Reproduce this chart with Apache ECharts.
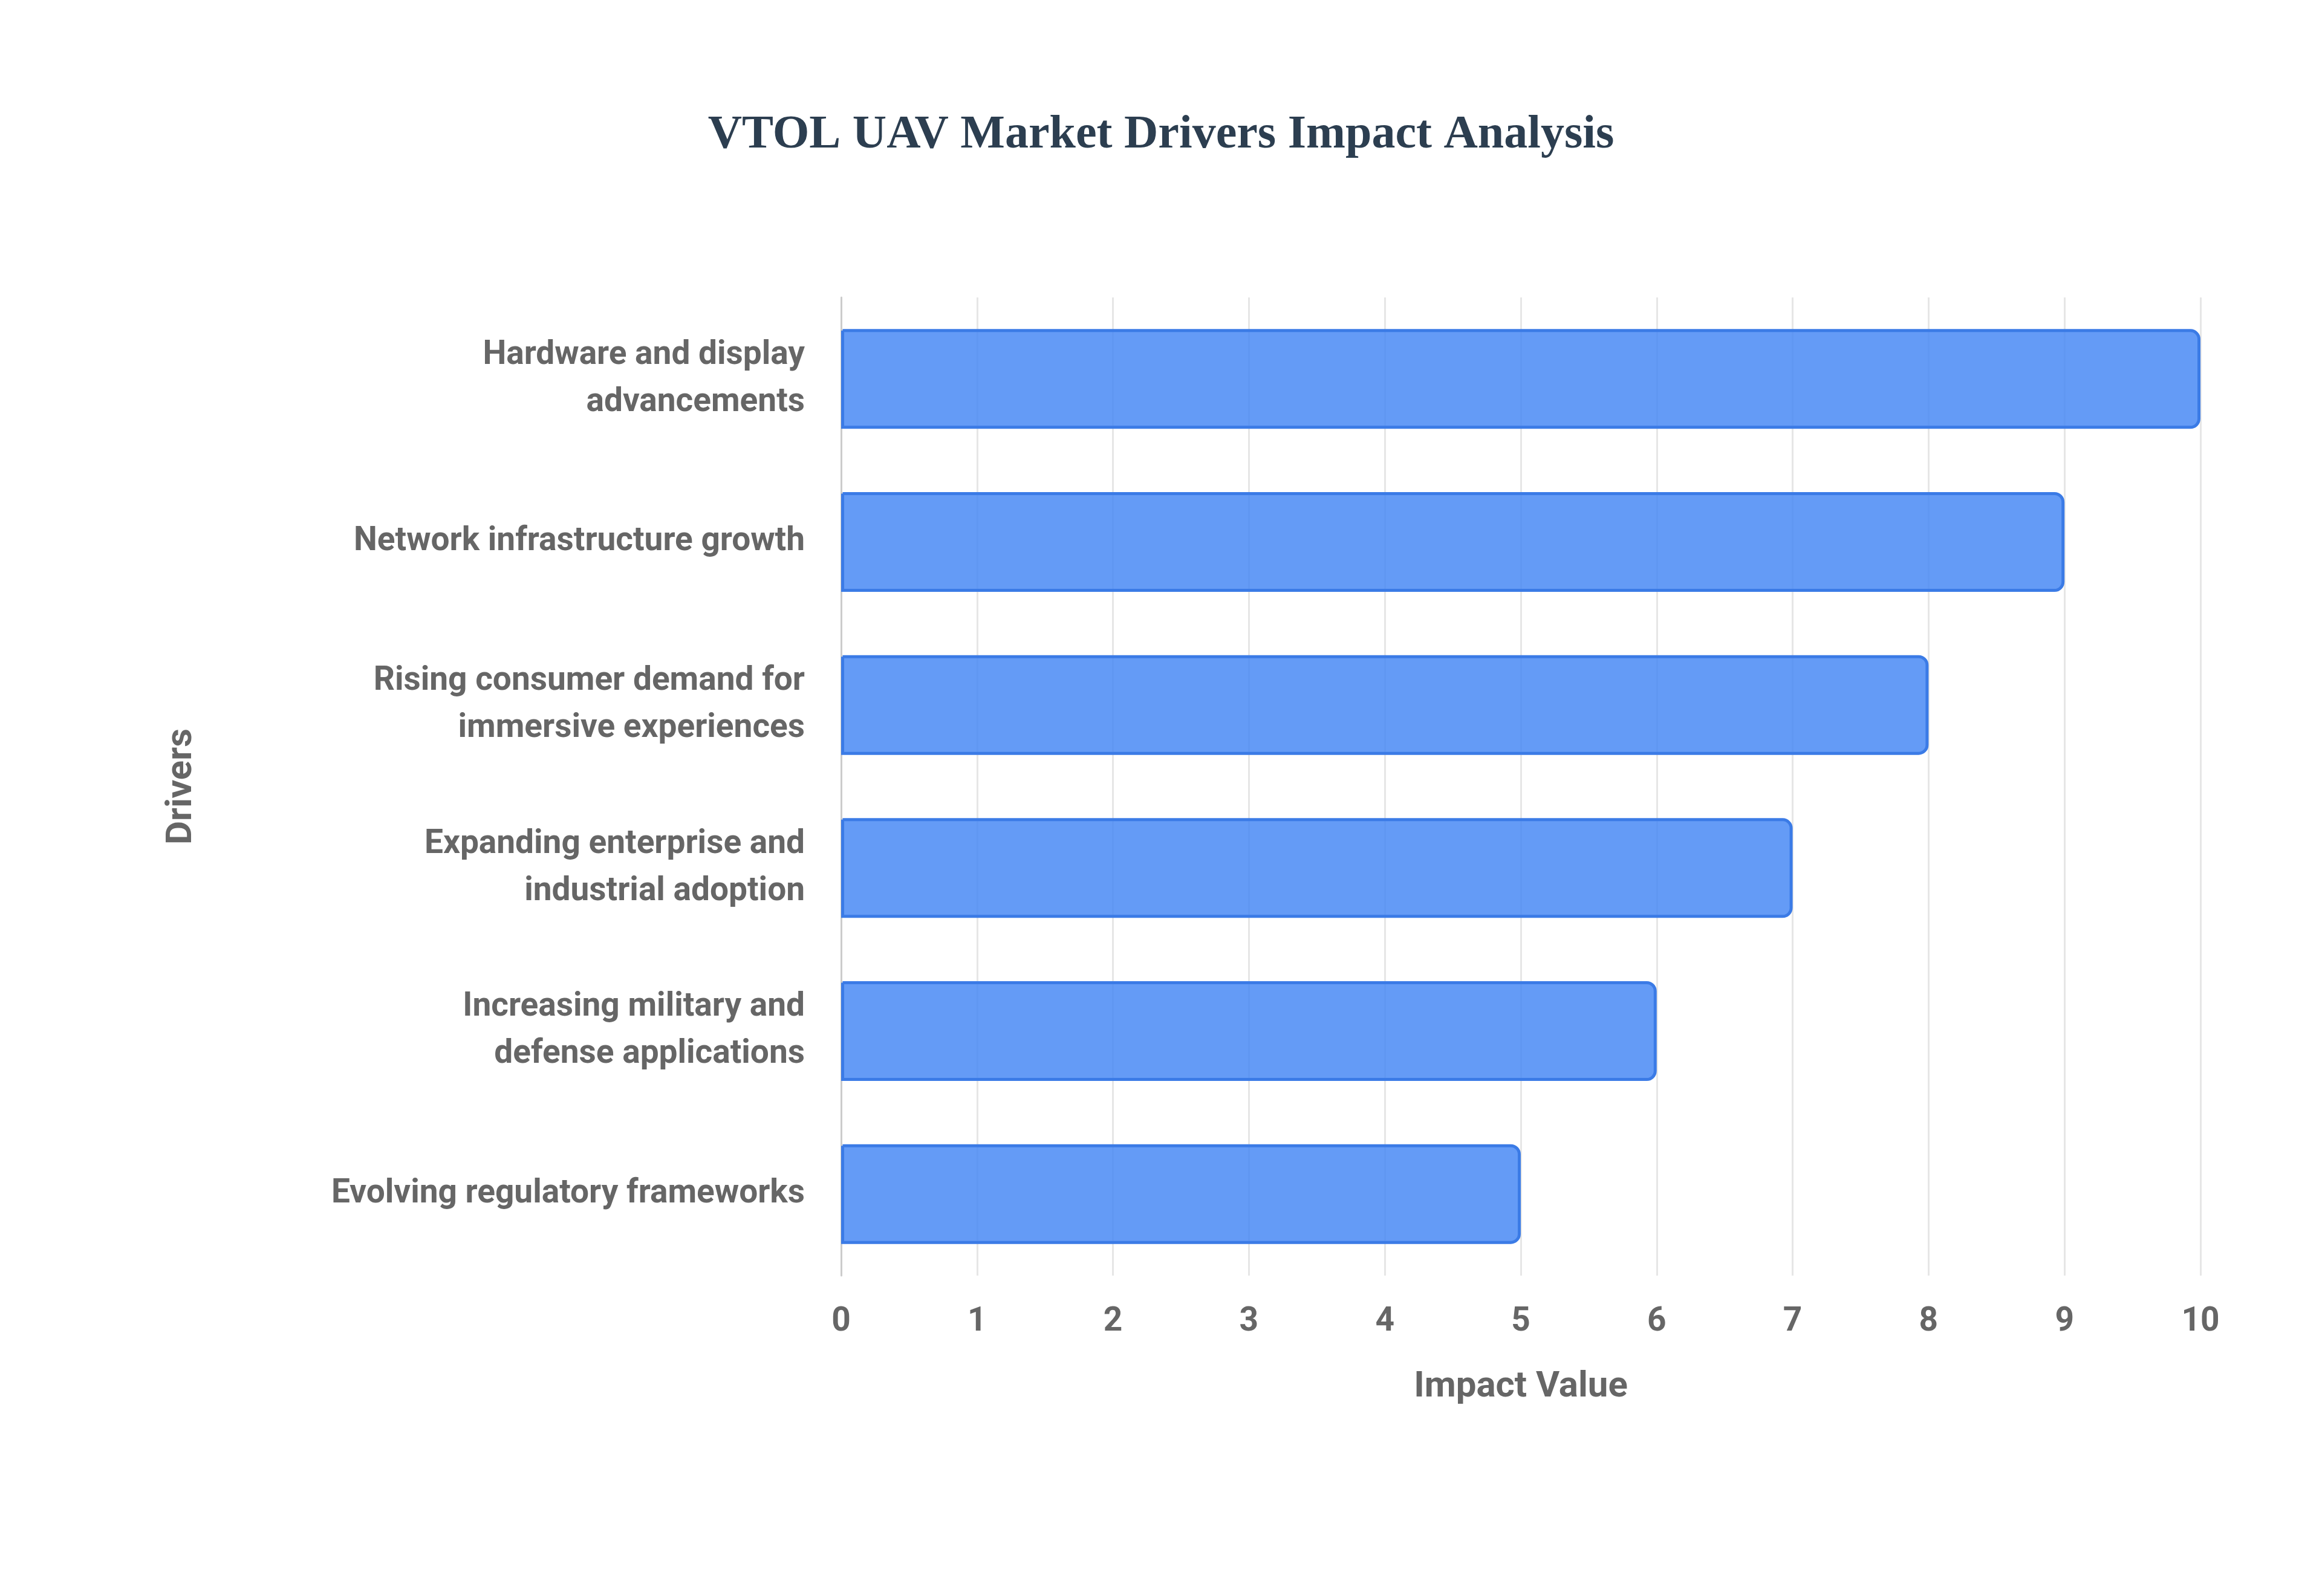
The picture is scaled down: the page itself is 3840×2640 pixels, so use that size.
<!DOCTYPE html>
<html>
<head>
<meta charset="utf-8">
<script src="https://cdn.jsdelivr.net/npm/echarts@6/dist/echarts.min.js"></script>
<style>html,body{margin:0;padding:0;background:#fff}#chart{width:3840px;height:2640px}</style>
</head>
<body>
<div id="chart"></div>
<script>
var drivers = [
    "Hardware and display\nadvancements",
    "Network infrastructure growth",
    "Rising consumer demand for\nimmersive experiences",
    "Expanding enterprise and\nindustrial adoption",
    "Increasing military and\ndefense applications",
    "Evolving regulatory frameworks"
];
var impactValues = [10, 9, 8, 7, 6, 5];

var chart = echarts.init(document.getElementById("chart"));
var labelFont = "'Liberation Sans Narrow', Roboto, 'Liberation Sans', sans-serif";

var option = {
    backgroundColor: "#ffffff",
    title: {
        text: "VTOL UAV Market Drivers Impact Analysis",
        left: "center",
        top: 180,
        textStyle: {
            fontFamily: "'Liberation Serif', 'DejaVu Serif', serif",
            fontWeight: "bold",
            fontSize: 78,
            color: "#2c3e50"
        }
    },
    grid: {
        left: 1391,
        right: 201,
        top: 492,
        bottom: 530
    },
    xAxis: {
        type: "value",
        min: 0,
        max: 10,
        interval: 1,
        name: "Impact Value",
        nameLocation: "middle",
        nameGap: 155,
        nameTextStyle: {fontFamily: labelFont, fontWeight: "bold", fontSize: 60, color: "#666666"},
        axisLine: {show: false},
        axisTick: {show: false},
        axisLabel: {fontFamily: labelFont, fontWeight: "bold", fontSize: 55, color: "#666666", margin: 50},
        splitLine: {show: true, lineStyle: {color: "#e6e6e6", width: 3}}
    },
    yAxis: {
        type: "category",
        data: drivers,
        inverse: true,
        name: "Drivers",
        nameLocation: "middle",
        nameGap: 1060,
        nameTextStyle: {fontFamily: labelFont, fontWeight: "bold", fontSize: 60, color: "#666666"},
        axisLine: {show: true, lineStyle: {color: "#cccccc", width: 3}},
        axisTick: {show: false},
        axisLabel: {fontFamily: labelFont, fontWeight: "bold", fontSize: 55, color: "#666666", margin: 60, lineHeight: 78, align: "right"}
    },
    series: [
        {
            name: "Impact",
            type: "bar",
            data: impactValues,
            barWidth: 165,
            itemStyle: {
                color: "rgba(66,133,244,0.82)",
                borderColor: "#3b7be6",
                borderWidth: 5,
                borderRadius: [0, 14, 14, 0]
            }
        }
    ]
};
chart.setOption(option);
</script>
</body>
</html>
